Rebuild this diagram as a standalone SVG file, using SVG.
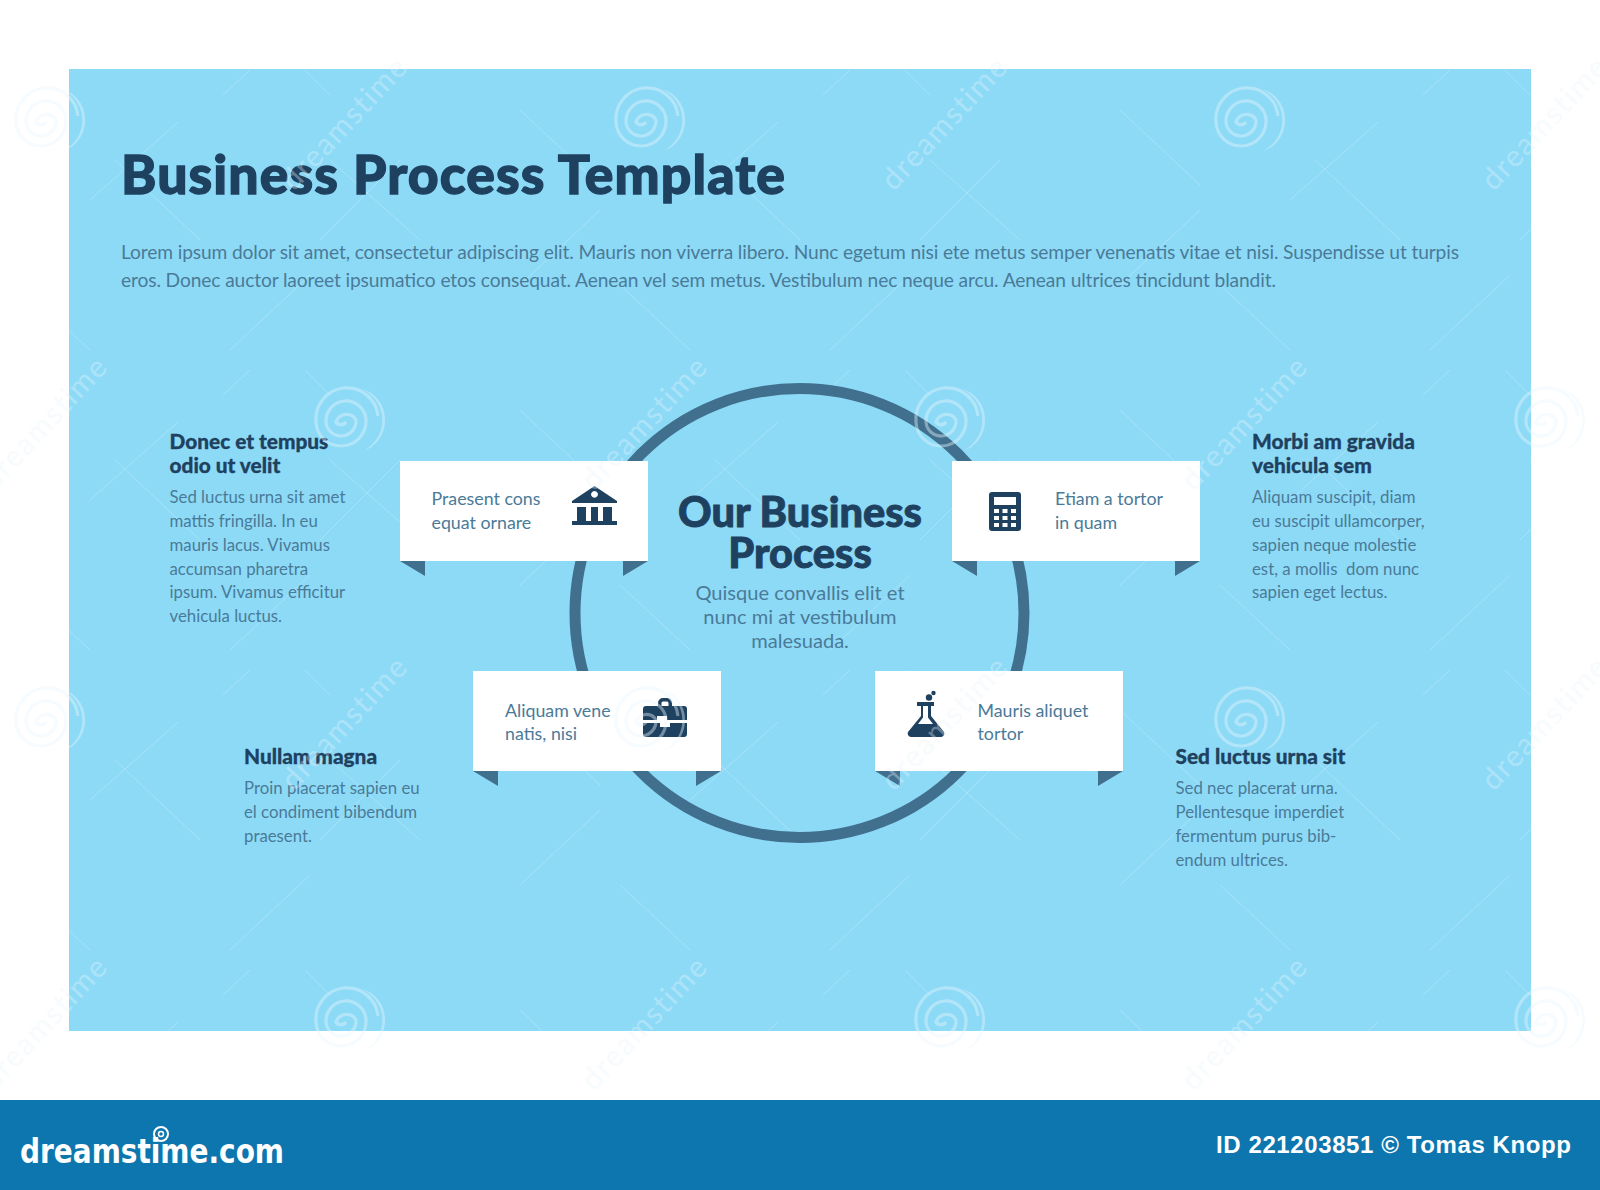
<svg xmlns="http://www.w3.org/2000/svg" xmlns:xlink="http://www.w3.org/1999/xlink" width="1600" height="1190" viewBox="0 0 1600 1190">
<style>
text{font-family:"Lato","Liberation Sans",sans-serif}
.title{font-size:53.500px;font-weight:900;fill:#1f4160;stroke:#1f4160;stroke-width:1.300px}
.para{font-size:19.2px;fill:#4a7a98}
.h{font-size:20.8px;font-weight:900;fill:#1f4160;stroke:#1f4160;stroke-width:.3px}
.b{font-size:16.8px;fill:#4a7a98}
.c{font-size:17.8px;fill:#4a7a98}
.ct{font-size:41.500px;font-weight:900;fill:#1f4160;stroke:#1f4160;stroke-width:.9px;text-anchor:middle}
.cb{font-size:20.1px;fill:#4a7a98;text-anchor:middle}
.card{fill:#fff}
.fold{fill:#41708e}
.icon{fill:#1f4160}
.wm{font-size:30px;fill:#e8f6fc;opacity:.34;letter-spacing:1.600px}
.sp{fill:none;stroke:#e8f6fc;stroke-width:3.2;opacity:.42}
.grid{stroke:#fff;stroke-width:1;opacity:.22;fill:none}
</style>
<defs>
<g id="spiral">
<path class="sp" d="M2,2 A6,6 0 0 1 -8,2 A11,11 0 0 1 12,0 A15,15 0 0 1 -18,2 A20,20 0 0 1 22,0 A25,25 0 0 1 -28,2 A31,31 0 0 1 34,-4 "/>
<path d="M18,-31 A37,35 0 0 1 19,31 A30,32 0 0 0 18,-31Z" fill="#e8f6fc" opacity=".42"/>
</g>
<text id="wmark" class="wm" transform="rotate(-47)">dreamstime</text>
<pattern id="gridp" width="600" height="300" patternUnits="userSpaceOnUse" x="0" y="70">
<path class="grid" d="M223,25 L250,0 M305,0 L330,25 M90,130 L178,52 M115,90 L200,170 M330,90 L420,170 M400,90 L320,170 M520,40 L600,115 M520,215 L600,140 M20,215 L90,280 M230,280 L310,205"/>
</pattern>
</defs>
<rect width="1600" height="1190" fill="#fff"/>
<rect id="panel" x="69" y="69" width="1462" height="962" fill="#8ddaf7"/>
<rect x="69" y="69" width="1462" height="962" fill="url(#gridp)"/>

<g id="header">
<text class="title" x="121" y="194" textLength="664" lengthAdjust="spacing">Business Process Template</text>
<text class="para" x="121" y="259" textLength="1338" lengthAdjust="spacing">Lorem ipsum dolor sit amet, consectetur adipiscing elit. Mauris non viverra libero. Nunc egetum nisi ete metus semper venenatis vitae et nisi. Suspendisse ut turpis</text>
<text class="para" x="121" y="287" textLength="1155" lengthAdjust="spacing">eros. Donec auctor laoreet ipsumatico etos consequat. Aenean vel sem metus. Vestibulum nec neque arcu. Aenean ultrices tincidunt blandit.</text>
</g>

<g id="connectors">
<circle cx="799.5" cy="613" r="224.5" fill="none" stroke="#41708e" stroke-width="11"/>
</g>

<g id="center">
<text class="ct" x="800" y="526.5">Our Business</text>
<text class="ct" x="800" y="567.5">Process</text>
<text class="cb" x="800" y="600">Quisque convallis elit et</text>
<text class="cb" x="800" y="623.5">nunc mi at vestibulum</text>
<text class="cb" x="800" y="647.5">malesuada.</text>
</g>

<g id="note-tl">
<text class="h" x="169.5" y="449">Donec et tempus</text>
<text class="h" x="169.5" y="472.500">odio ut velit</text>
<text class="b" x="169.5" y="503">Sed luctus urna sit amet</text>
<text class="b" x="169.5" y="527">mattis fringilla. In eu</text>
<text class="b" x="169.5" y="551">mauris lacus. Vivamus</text>
<text class="b" x="169.5" y="575">accumsan pharetra</text>
<text class="b" x="169.5" y="598">ipsum. Vivamus efficitur</text>
<text class="b" x="169.5" y="622">vehicula luctus.</text>
</g>
<g id="note-tr">
<text class="h" x="1252" y="449">Morbi am gravida</text>
<text class="h" x="1252" y="472.500">vehicula sem</text>
<text class="b" x="1252" y="503">Aliquam suscipit, diam</text>
<text class="b" x="1252" y="527">eu suscipit ullamcorper,</text>
<text class="b" x="1252" y="551">sapien neque molestie</text>
<text class="b" x="1252" y="575" xml:space="preserve">est, a mollis  dom nunc</text>
<text class="b" x="1252" y="598">sapien eget lectus.</text>
</g>
<g id="note-bl">
<text class="h" x="244" y="764">Nullam magna</text>
<text class="b" x="244" y="794">Proin placerat sapien eu</text>
<text class="b" x="244" y="818">el condiment bibendum</text>
<text class="b" x="244" y="842">praesent.</text>
</g>
<g id="note-br">
<text class="h" x="1175.5" y="764">Sed luctus urna sit</text>
<text class="b" x="1175.5" y="794">Sed nec placerat urna.</text>
<text class="b" x="1175.5" y="818">Pellentesque imperdiet</text>
<text class="b" x="1175.5" y="842">fermentum purus bib-</text>
<text class="b" x="1175.5" y="866">endum ultrices.</text>
</g>

<g id="card-tl">
<polygon class="fold" points="400,561 425,561 425,576"/>
<polygon class="fold" points="648,561 623,561 623,576"/>
<rect class="card" x="400" y="461" width="248" height="100"/>
<text class="c" x="431.5" y="505">Praesent cons</text>
<text class="c" x="431.5" y="529">equat ornare</text>
<path class="icon" fill-rule="evenodd" d="M594.5,486 L617,501 L617,503 L572,503 L572,501 Z M594.5,491 a3.4,3.4 0 1 0 0.01,0 Z M577,507 h9 v14 h-9 Z M591,507 h7 v14 h-7 Z M603,507 h9 v14 h-9 Z M572,521 h45 v4 h-45 Z"/>
</g>
<g id="card-tr">
<polygon class="fold" points="952,561 977,561 977,576"/>
<polygon class="fold" points="1200,561 1175,561 1175,576"/>
<rect class="card" x="952" y="461" width="248" height="100"/>
<text class="c" x="1055" y="505">Etiam a tortor</text>
<text class="c" x="1055" y="529">in quam</text>
<path class="icon" fill-rule="evenodd" d="M992,492 h26 a3,3 0 0 1 3,3 v33 a3,3 0 0 1 -3,3 h-26 a3,3 0 0 1 -3,-3 v-33 a3,3 0 0 1 3,-3 Z M994,497 v8 h22 v-8 Z M994,509 v4 h5 v-4 Z M1002.500,509 v4 h5 v-4 Z M1011,509 v4 h5 v-4 Z M994,516 v4 h5 v-4 Z M1002.500,516 v4 h5 v-4 Z M1011,516 v4 h5 v-4 Z M994,523 v4 h5 v-4 Z M1002.500,523 v4 h5 v-4 Z M1011,523 v4 h5 v-4 Z"/>
</g>
<g id="card-bl">
<polygon class="fold" points="473,771 498,771 498,786"/>
<polygon class="fold" points="721,771 696,771 696,786"/>
<rect class="card" x="473" y="671" width="248" height="100"/>
<text class="c" x="505" y="716.500">Aliquam vene</text>
<text class="c" x="505" y="740">natis, nisi</text>
<path class="icon" fill-rule="evenodd" d="M658,706 v-3 a5,5 0 0 1 5,-5 h4 a5,5 0 0 1 5,5 v3 h12 a3,3 0 0 1 3,3 v11 h-20 v-4 h-10 v4 h-14 v-11 a3,3 0 0 1 3,-3 Z M661.500,706 h7 v-3 a1.500,1.500 0 0 0 -1.500,-1.500 h-4 a1.500,1.500 0 0 0 -1.500,1.500 Z M643,723 h17 v4 h10 v-4 h17 v11 a3,3 0 0 1 -3,3 h-38 a3,3 0 0 1 -3,-3 Z"/>
</g>
<g id="card-br">
<polygon class="fold" points="875,771 900,771 900,786"/>
<polygon class="fold" points="1123,771 1098,771 1098,786"/>
<rect class="card" x="875" y="671" width="248" height="100"/>
<text class="c" x="977.500" y="716.500">Mauris aliquet</text>
<text class="c" x="977.500" y="740">tortor</text>
<path class="icon" fill-rule="evenodd" d="M917,702 h17 v4 h-3 v10 l13,16 a3.500,3.500 0 0 1 -3,5 h-30 a3.500,3.500 0 0 1 -3,-5 l13,-16 v-10 h-4 Z M923,706 v11.500 l-5,6.500 h15 l-5,-6.500 v-11.500 Z"/>
<circle class="icon" cx="929" cy="697.500" r="3.200"/>
<circle class="icon" cx="933.500" cy="693" r="2.200"/>
</g>

<g id="watermarks">
<use xlink:href="#spiral" href="#spiral" x="44" y="120"/>
<use xlink:href="#spiral" href="#spiral" x="644" y="120"/>
<use xlink:href="#spiral" href="#spiral" x="1244" y="120"/>
<use xlink:href="#spiral" href="#spiral" x="344" y="420"/>
<use xlink:href="#spiral" href="#spiral" x="944" y="420"/>
<use xlink:href="#spiral" href="#spiral" x="1544" y="420"/>
<use xlink:href="#spiral" href="#spiral" x="44" y="720"/>
<use xlink:href="#spiral" href="#spiral" x="644" y="720"/>
<use xlink:href="#spiral" href="#spiral" x="1244" y="720"/>
<use xlink:href="#spiral" href="#spiral" x="344" y="1020"/>
<use xlink:href="#spiral" href="#spiral" x="944" y="1020"/>
<use xlink:href="#spiral" href="#spiral" x="1544" y="1020"/>
<use xlink:href="#wmark" href="#wmark" transform="translate(294,192)"/>
<use xlink:href="#wmark" href="#wmark" transform="translate(894,192)"/>
<use xlink:href="#wmark" href="#wmark" transform="translate(1494,192)"/>
<use xlink:href="#wmark" href="#wmark" transform="translate(-6,492)"/>
<use xlink:href="#wmark" href="#wmark" transform="translate(594,492)"/>
<use xlink:href="#wmark" href="#wmark" transform="translate(1194,492)"/>
<use xlink:href="#wmark" href="#wmark" transform="translate(294,792)"/>
<use xlink:href="#wmark" href="#wmark" transform="translate(894,792)"/>
<use xlink:href="#wmark" href="#wmark" transform="translate(1494,792)"/>
<use xlink:href="#wmark" href="#wmark" transform="translate(-6,1092)"/>
<use xlink:href="#wmark" href="#wmark" transform="translate(594,1092)"/>
<use xlink:href="#wmark" href="#wmark" transform="translate(1194,1092)"/>
</g>

<g id="footer">
<rect x="0" y="1100" width="1600" height="90" fill="#0e76ae"/>
<text x="20" y="1163" font-size="33" font-weight="700" fill="#fff" style="font-family:'DejaVu Sans',sans-serif" textLength="264" lengthAdjust="spacingAndGlyphs">dreamstime.com</text>
<circle cx="161" cy="1134" r="7" fill="none" stroke="#fff" stroke-width="2"/>
<circle cx="161" cy="1134" r="2.500" fill="none" stroke="#fff" stroke-width="1.500"/>
<text x="1216" y="1153" font-size="24" font-weight="700" fill="#fff" style="font-family:'Liberation Sans',sans-serif" textLength="355" lengthAdjust="spacing">ID 221203851 © Tomas Knopp</text>
</g>
</svg>
